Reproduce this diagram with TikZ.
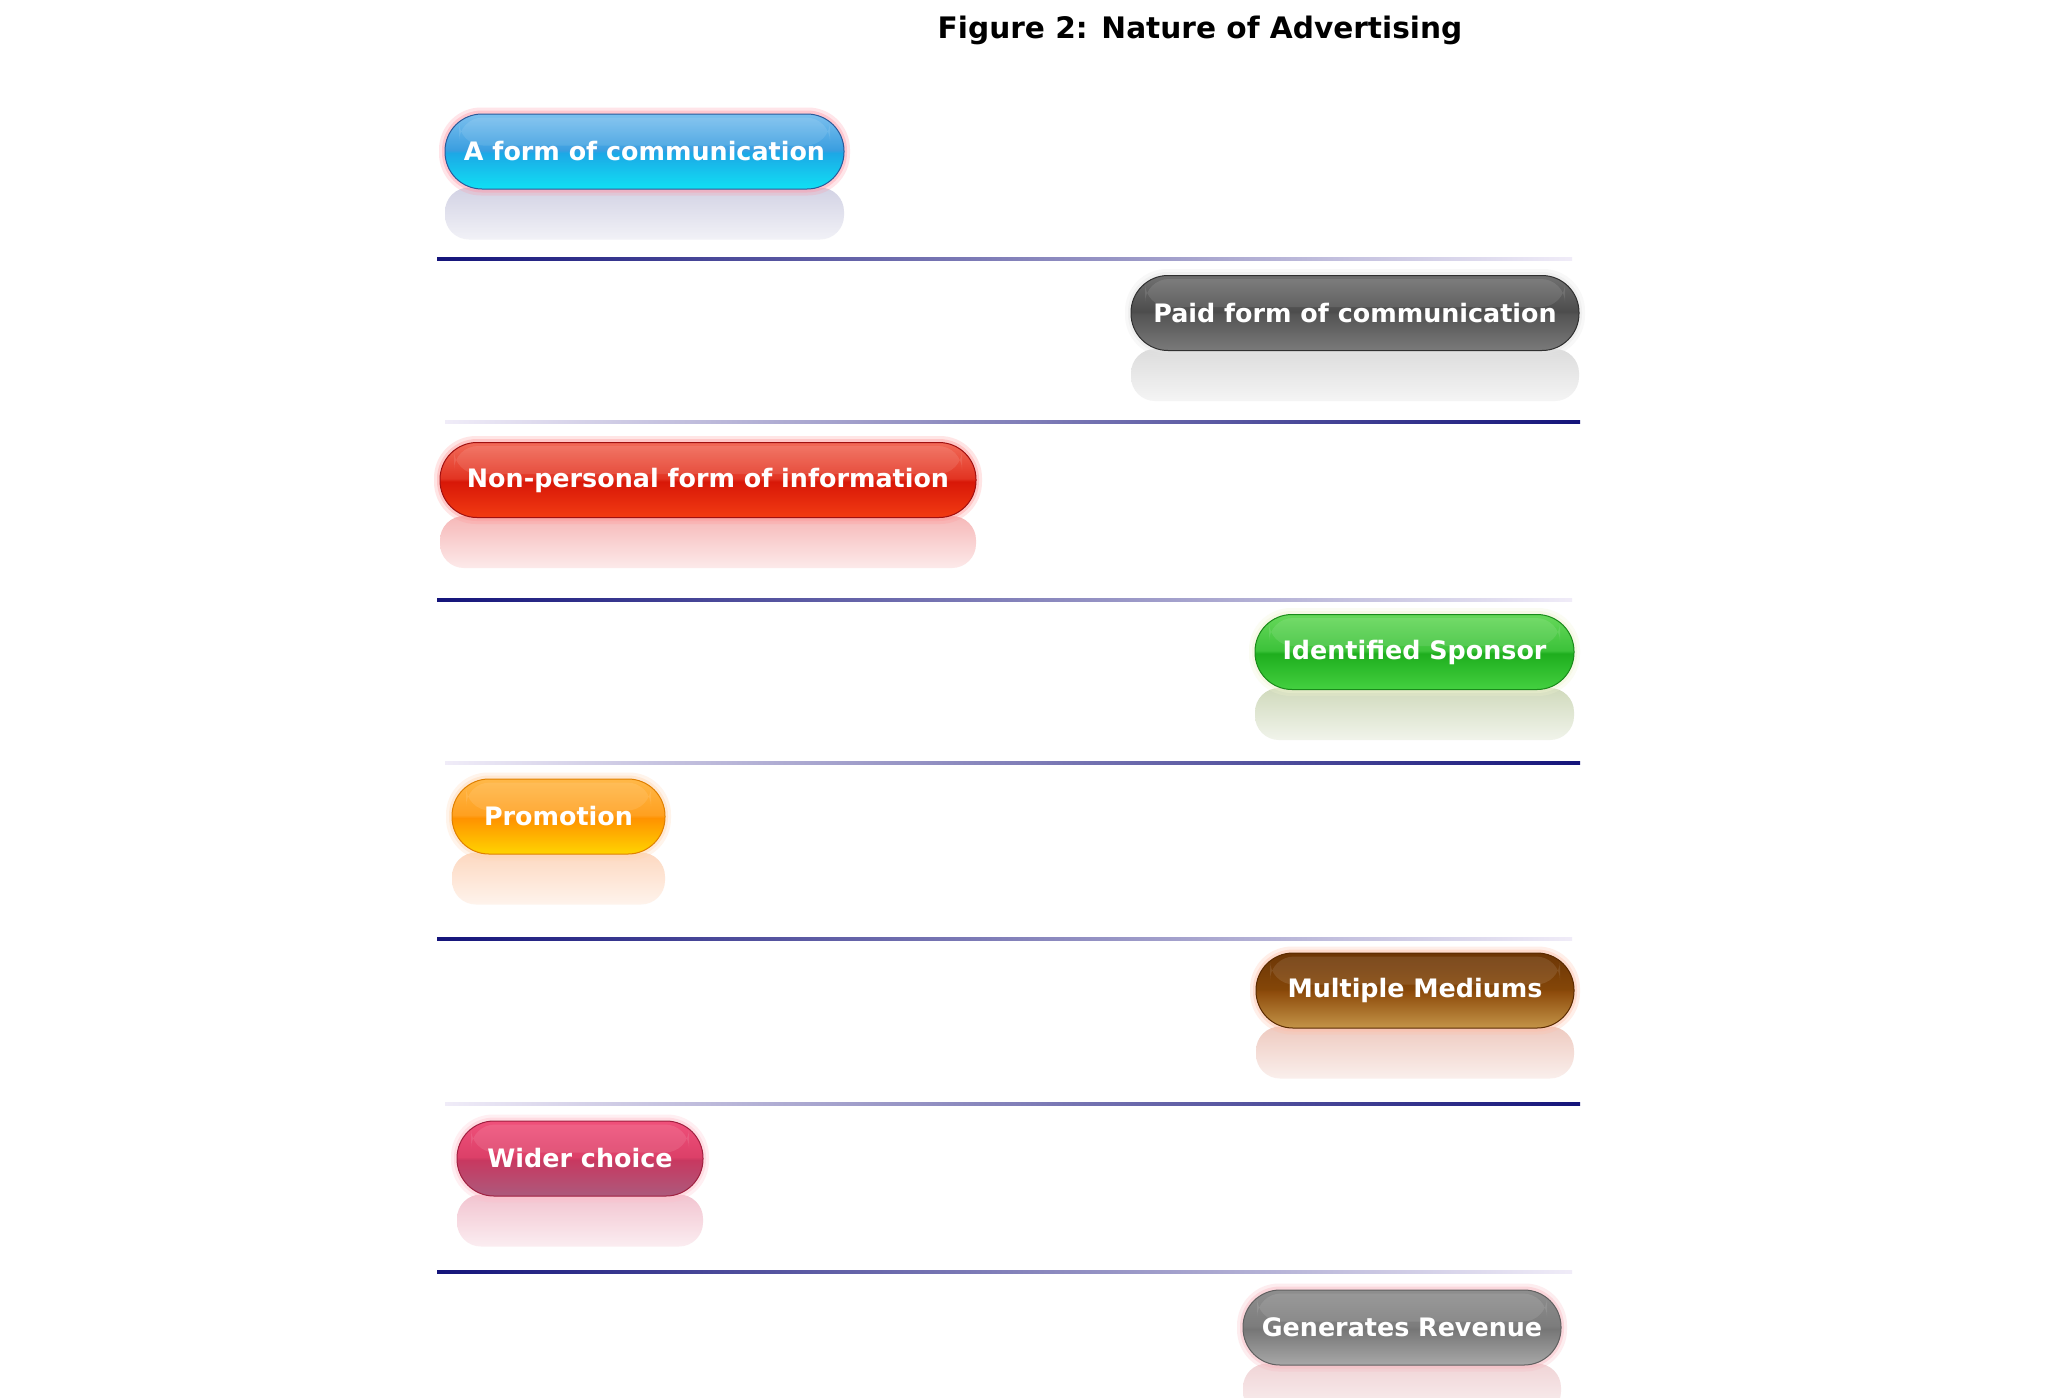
\documentclass[tikz,border=0pt]{standalone}
\usepackage{fontspec}
\setmainfont{DejaVu Sans}
\tikzset{
  btn/.style={rounded corners=18.5pt, minimum height=37.5pt, inner sep=0pt, line width=0.5pt},
  btntext/.style={text=white, font=\fontsize{12.7}{14}\selectfont\bfseries, inner sep=0pt},
}
% per-button colours: T top, U upper-half bottom, M lower-half top, B bottom, D border, R reflection, G glow
\definecolor{b1T}{HTML}{7CC0EE}\definecolor{b1U}{HTML}{3A9EE0}\definecolor{b1M}{HTML}{1CA8E6}\definecolor{b1B}{HTML}{10E0F4}
\definecolor{b1D}{HTML}{2A5A9A}\definecolor{b1R}{HTML}{D2D2E4}\definecolor{b1G}{HTML}{FF9AAA}
\definecolor{b2T}{HTML}{707070}\definecolor{b2U}{HTML}{4C4C4C}\definecolor{b2M}{HTML}{545454}\definecolor{b2B}{HTML}{7A7A7A}
\definecolor{b2D}{HTML}{303030}\definecolor{b2R}{HTML}{DCDCDC}\definecolor{b2G}{HTML}{E4E4E4}
\definecolor{b3T}{HTML}{F26A58}\definecolor{b3U}{HTML}{E23422}\definecolor{b3M}{HTML}{D81808}\definecolor{b3B}{HTML}{F23C12}
\definecolor{b3D}{HTML}{A01010}\definecolor{b3R}{HTML}{F6B8B8}\definecolor{b3G}{HTML}{FF9A9A}
\definecolor{b4T}{HTML}{66D85A}\definecolor{b4U}{HTML}{3CC23A}\definecolor{b4M}{HTML}{1EAE1E}\definecolor{b4B}{HTML}{44D040}
\definecolor{b4D}{HTML}{1A8A1A}\definecolor{b4R}{HTML}{D0DABC}\definecolor{b4G}{HTML}{F0F4D0}
\definecolor{b5T}{HTML}{FFB848}\definecolor{b5U}{HTML}{FFA020}\definecolor{b5M}{HTML}{FF9200}\definecolor{b5B}{HTML}{FFD400}
\definecolor{b5D}{HTML}{E08000}\definecolor{b5R}{HTML}{FDD8C0}\definecolor{b5G}{HTML}{FFD6B0}
\definecolor{b6T}{HTML}{6C3606}\definecolor{b6U}{HTML}{844608}\definecolor{b6M}{HTML}{8E4C0C}\definecolor{b6B}{HTML}{C49448}
\definecolor{b6D}{HTML}{5A2A00}\definecolor{b6R}{HTML}{EECAC0}\definecolor{b6G}{HTML}{FFC0A8}
\definecolor{b7T}{HTML}{F0507A}\definecolor{b7U}{HTML}{DC4068}\definecolor{b7M}{HTML}{C83860}\definecolor{b7B}{HTML}{AC5A7C}
\definecolor{b7D}{HTML}{A02040}\definecolor{b7R}{HTML}{F2C4D0}\definecolor{b7G}{HTML}{FFC0CC}
\definecolor{b8T}{HTML}{8E8E8E}\definecolor{b8U}{HTML}{7C7C7C}\definecolor{b8M}{HTML}{767676}\definecolor{b8B}{HTML}{A8A8A8}
\definecolor{b8D}{HTML}{606060}\definecolor{b8R}{HTML}{F0D4D6}\definecolor{b8G}{HTML}{F8B8C0}
\definecolor{navy}{HTML}{14147A}
\definecolor{fadeline}{HTML}{F0ECF8}
% #1 name, #2 cx, #3 cy, #4 width(px), #5 text
\newcommand\glossbtn[5]{%
  \pgfdeclareverticalshading{sh#1}{100bp}{color(0bp)=(#1B); color(25bp)=(#1B); color(49bp)=(#1M); color(51bp)=(#1U); color(75bp)=(#1T); color(100bp)=(#1T)}%
  \path[top color=#1R, bottom color=#1R!30!white, rounded corners=12pt]
    ({#2-#4/2},{#3+36}) rectangle ({#2+#4/2},{#3+88});
  \path[fill=#1G, fill opacity=0.25, rounded corners=21pt]
    ({#2-#4/2-6},{#3-44}) rectangle ({#2+#4/2+6},{#3+44});
  \path[fill=#1G, fill opacity=0.4, rounded corners=20pt]
    ({#2-#4/2-3},{#3-41}) rectangle ({#2+#4/2+3},{#3+41});
  \node[btn, shading=sh#1, draw=#1D, minimum width=#4*0.5pt] (#1) at (#2,#3) {};
  \path[fill=white, fill opacity=0.10, rounded corners=12pt]
    ({#2-#4/2+14},{#3-34}) rectangle ({#2+#4/2-14},{#3-6});
  \node[btntext] (#1t) at (#1.center) {#5};
}
\begin{document}
\begin{tikzpicture}[x=0.5pt,y=-0.5pt]
\useasboundingbox[fill=white] (0,0) rectangle (2048,1397);
\node[font=\fontsize{14.8}{17}\selectfont\bfseries, text=black] (title) at (1200,30) {Figure 2: Nature of Advertising};

% separator lines
\foreach \yy in {259,600,939,1272}{
  \path[left color=navy, right color=fadeline] (437,{\yy-1.5}) rectangle (1572,{\yy+1.5});
}
\foreach \yy in {422,763,1104}{
  \path[left color=fadeline, right color=navy] (445,{\yy-1.5}) rectangle (1580,{\yy+1.5});
}

\glossbtn{b1}{644.5}{151.5}{399}{A form of communication}
\glossbtn{b2}{1355}{313}{448}{Paid form of communication}
\glossbtn{b3}{708}{480}{536}{Non-personal form of information}
\glossbtn{b4}{1414.5}{652}{319}{Identified Sponsor}
\glossbtn{b5}{558.5}{816.5}{213}{Promotion}
\glossbtn{b6}{1415}{990.5}{318}{Multiple Mediums}
\glossbtn{b7}{580}{1158.5}{246}{Wider choice}
\glossbtn{b8}{1402}{1327.5}{318}{Generates Revenue}
\end{tikzpicture}
\end{document}
